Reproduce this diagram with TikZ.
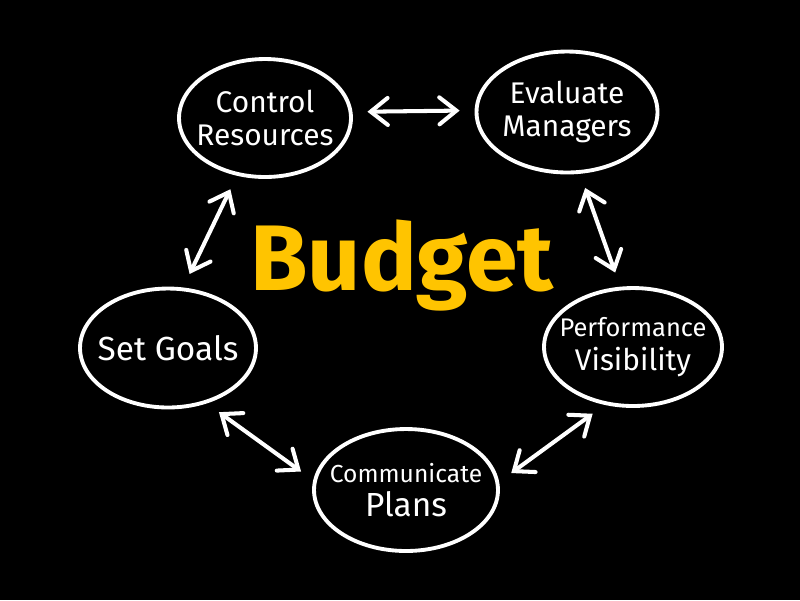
\documentclass[tikz,border=0pt]{standalone}
\usepackage{fontspec}
\setmainfont{Fira Sans}
\usepackage{tikz}
\usetikzlibrary{shapes.geometric, arrows.meta, positioning}

\definecolor{budgetyellow}{RGB}{255,196,0}
\tikzset{
    bubble/.style={ellipse, draw=white, line width=2.2pt, text=white, align=center,
        minimum width=3.44cm, minimum height=2.36cm, inner xsep=-0.7cm, inner ysep=-0.4cm,
        font=\fontsize{17}{19}\selectfont},
    link/.style={white, line width=2.3pt, line cap=round,
        {Straight Barb[length=3.4mm, width=5.4mm, line cap=round]}-{Straight Barb[length=3.4mm, width=5.4mm, line cap=round]},
        shorten >=0.3cm, shorten <=0.3cm}
}

\begin{document}
\begin{tikzpicture}[x=0.02cm, y=-0.02cm]
            \fill[black] (0, 0) rectangle (800, 600);
            \useasboundingbox (0, 0) rectangle (800, 600);
            \node[bubble] (cr) at (265, 118) {Control\\Resources};
            \node[bubble, minimum width=3.62cm, minimum height=2.42cm] (em) at (567, 112) {Evaluate\\Managers};
            \node[bubble, minimum width=3.56cm] (pv) at (633, 347) {{\fontsize{14.5}{17}\selectfont Performance}\\Visibility};
            \node[bubble, minimum width=3.68cm, minimum height=2.44cm] (cp) at (406, 490) {{\fontsize{14}{17}\selectfont Communicate}\\{\fontsize{19}{21}\selectfont Plans}};
            \node[bubble, minimum width=3.52cm, minimum height=2.38cm, font=\fontsize{19}{21}\selectfont] (sg) at (168, 348) {Set Goals};
            \node[text=budgetyellow, font=\fontsize{53}{53}\selectfont\bfseries] (budget) at (402, 265) {Budget};
            % connectors between the bubbles
            \draw[link] (cr.4) -- (em.179);
            \draw[link] (em.282) -- (pv.102);
            \draw[link] (cp.5) -- (pv.244);
            \draw[link] (sg.-55) -- (cp.174);
            \draw[link] (cr.244) -- (sg.76);
        \end{tikzpicture}
\end{document}
